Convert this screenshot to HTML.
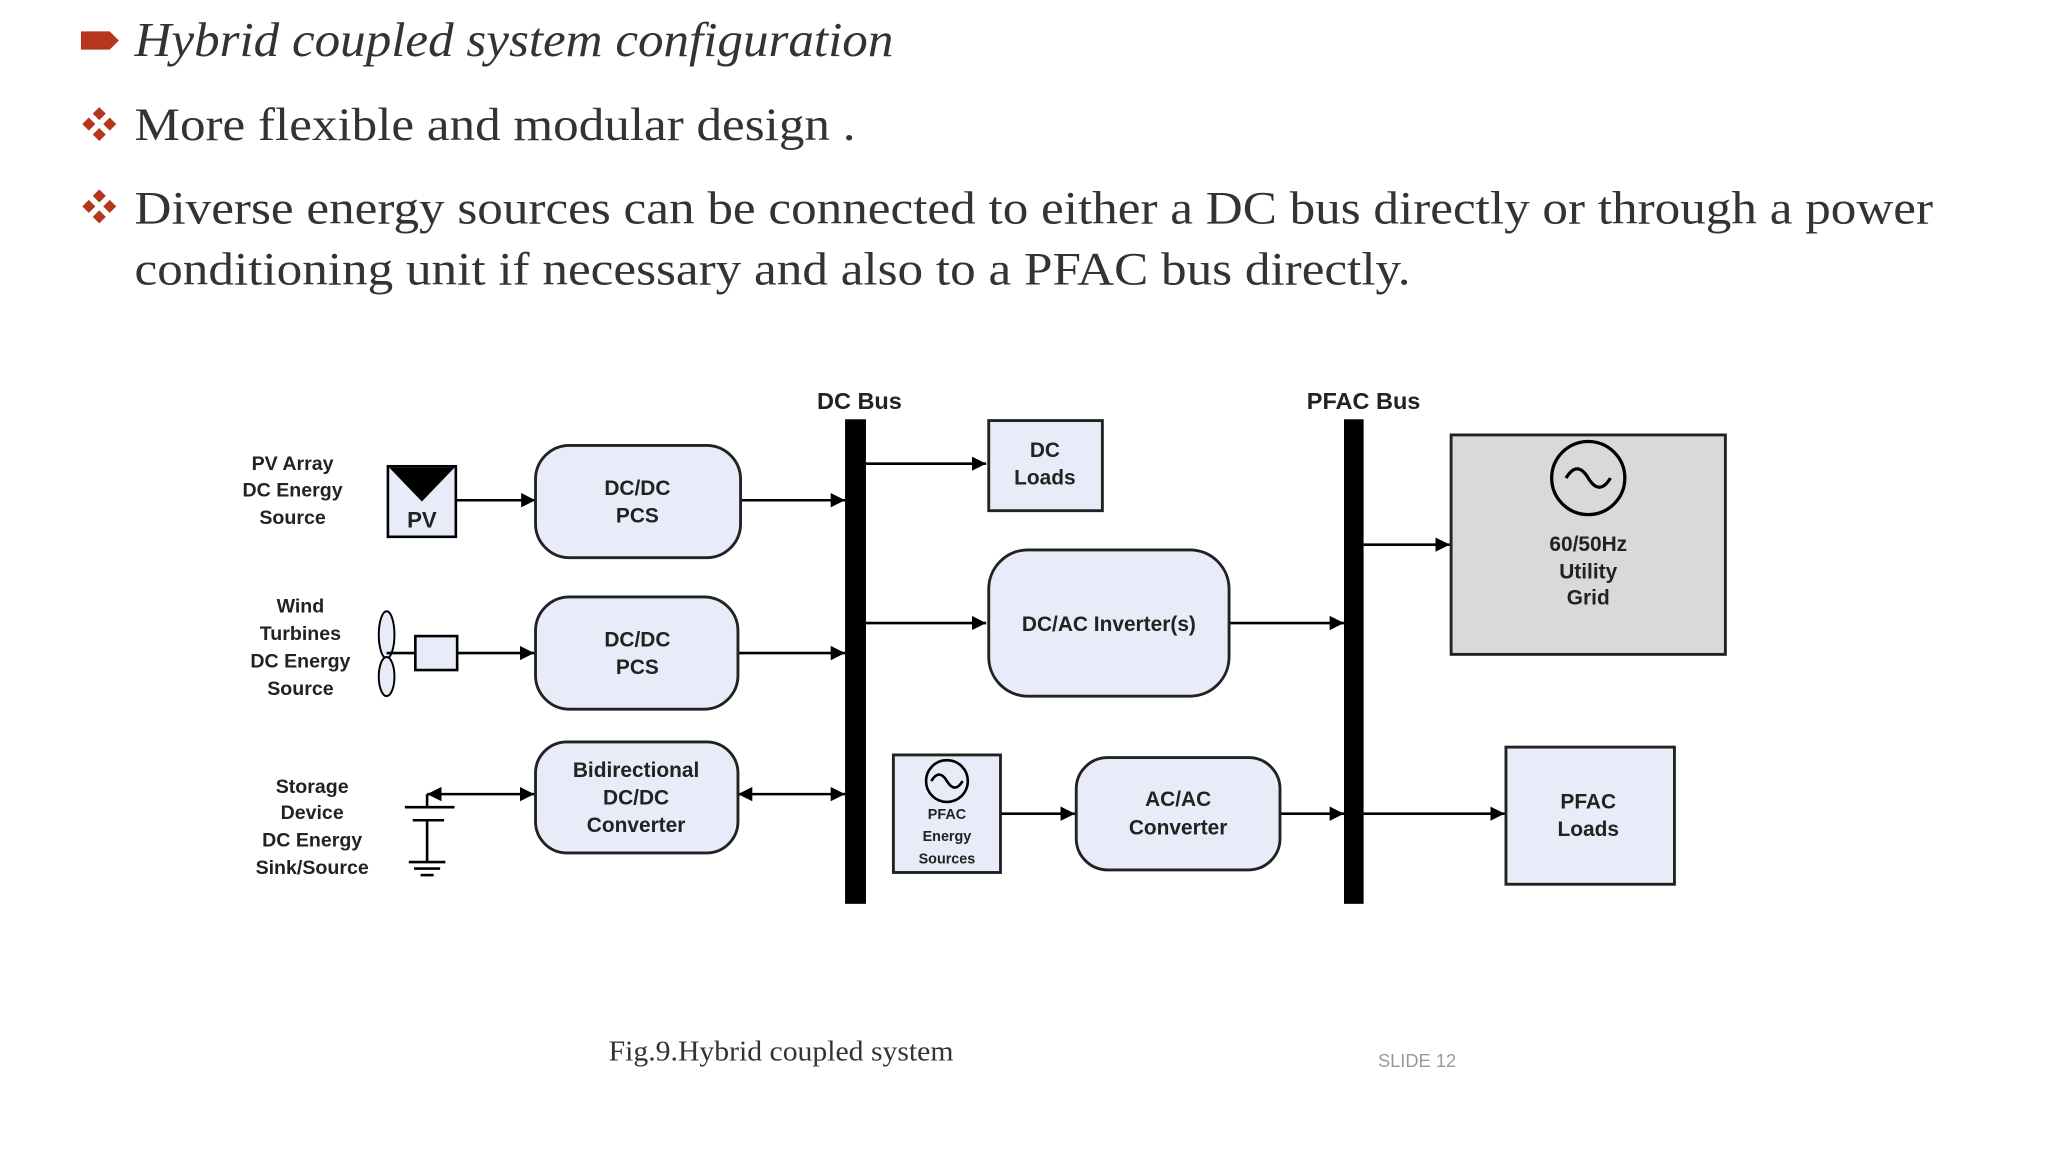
<!DOCTYPE html>
<html><head><meta charset="utf-8">
<style>
html,body{margin:0;padding:0;background:#fff;}
svg{display:block;}
.t{font-family:"Liberation Serif",serif;fill:#333;}
.d{font-family:"Liberation Sans",sans-serif;font-weight:bold;fill:#222;text-anchor:middle;}
</style></head><body>
<svg width="2048" height="1152" viewBox="0 0 1568 882" xmlns="http://www.w3.org/2000/svg">
<defs>
<marker id="a" viewBox="0 0 10 10" refX="10" refY="5" markerWidth="11" markerHeight="11" orient="auto-start-reverse" markerUnits="userSpaceOnUse"><path d="M0,0 L10,5 L0,10 z" fill="#000"/></marker>
</defs>
<rect width="1568" height="882" fill="#fff"/>
<path d="M62,24 L84,24 L91,31 L84,38 L62,38 z" fill="#b5361c"/>
<text class="t" x="103" y="43" font-size="37" font-style="italic" textLength="581" lengthAdjust="spacingAndGlyphs">Hybrid coupled system configuration</text>
<g fill="#b5361c">
<path d="M76,82 l5,5 l-5,5 l-5,-5z M76,98 l5,5 l-5,5 l-5,-5z M68,90 l5,5 l-5,5 l-5,-5z M84,90 l5,5 l-5,5 l-5,-5z"/>
<path d="M76,145 l5,5 l-5,5 l-5,-5z M76,161 l5,5 l-5,5 l-5,-5z M68,153 l5,5 l-5,5 l-5,-5z M84,153 l5,5 l-5,5 l-5,-5z"/>
</g>
<text class="t" x="103" y="107" font-size="36" textLength="552" lengthAdjust="spacingAndGlyphs">More flexible and modular design .</text>
<text class="t" x="103" y="171" font-size="36" textLength="1377" lengthAdjust="spacingAndGlyphs">Diverse energy sources can be connected to either a DC bus directly or through a power</text>
<text class="t" x="103" y="218" font-size="36" textLength="977" lengthAdjust="spacingAndGlyphs">conditioning unit if necessary and also to a PFAC bus directly.</text>

<text class="d" x="658" y="313" font-size="18">DC Bus</text>
<rect x="647" y="321" width="16" height="371" fill="#000"/>
<text class="d" x="1044" y="313" font-size="18">PFAC Bus</text>
<rect x="1029" y="321" width="15" height="371" fill="#000"/>

<g stroke="#000" stroke-width="2" fill="none" marker-end="url(#a)">
<line x1="349" y1="383" x2="410" y2="383"/>
<line x1="567" y1="383" x2="647" y2="383"/>
<line x1="350" y1="500" x2="409" y2="500"/>
<line x1="565" y1="500" x2="647" y2="500"/>
<line x1="327" y1="608" x2="409" y2="608" marker-start="url(#a)"/>
<line x1="565" y1="608" x2="647" y2="608" marker-start="url(#a)"/>
<line x1="663" y1="355" x2="755" y2="355"/>
<line x1="663" y1="477" x2="755" y2="477"/>
<line x1="941" y1="477" x2="1029" y2="477"/>
<line x1="766" y1="623" x2="823" y2="623"/>
<line x1="980" y1="623" x2="1029" y2="623"/>
<line x1="1044" y1="417" x2="1110" y2="417"/>
<line x1="1044" y1="623" x2="1152" y2="623"/>
</g>

<g class="d" font-size="15">
<text x="224" y="360">PV Array</text><text x="224" y="380">DC Energy</text><text x="224" y="401">Source</text>
<text x="230" y="469">Wind</text><text x="230" y="490">Turbines</text><text x="230" y="511">DC Energy</text><text x="230" y="532">Source</text>
<text x="239" y="607">Storage</text><text x="239" y="627">Device</text><text x="239" y="648">DC Energy</text><text x="239" y="669">Sink/Source</text>
</g>
<rect x="297" y="357" width="52" height="54" fill="#e8ecf8" stroke="#000" stroke-width="2"/>
<path d="M298,358 L348,358 L323,384 z" fill="#000"/>
<text class="d" x="323" y="404" font-size="17">PV</text>

<ellipse cx="296" cy="486" rx="6" ry="18" fill="#e8ecf8" stroke="#000" stroke-width="1.5"/>
<ellipse cx="296" cy="518" rx="6" ry="15" fill="#e8ecf8" stroke="#000" stroke-width="1.5"/>
<line x1="296" y1="500" x2="318" y2="500" stroke="#000" stroke-width="2"/>
<rect x="318" y="487" width="32" height="26" fill="#e8ecf8" stroke="#000" stroke-width="2"/>

<g stroke="#000" stroke-width="2">
<line x1="327" y1="608" x2="327" y2="618"/>
<line x1="310" y1="618" x2="348" y2="618"/>
<line x1="316" y1="628" x2="340" y2="628"/>
<line x1="327" y1="628" x2="327" y2="660"/>
<line x1="313" y1="660" x2="341" y2="660"/>
<line x1="317" y1="665" x2="337" y2="665"/>
<line x1="322" y1="670" x2="332" y2="670"/>
</g>

<g fill="#e8ecf8" stroke="#222" stroke-width="2.2">
<rect x="410" y="341" width="157" height="86" rx="26"/>
<rect x="410" y="457" width="155" height="86" rx="26"/>
<rect x="410" y="568" width="155" height="85" rx="24"/>
<rect x="757" y="421" width="184" height="112" rx="30"/>
<rect x="824" y="580" width="156" height="86" rx="24"/>
<rect x="757" y="322" width="87" height="69" rx="0"/>
<rect x="684" y="578" width="82" height="90" rx="0"/>
<rect x="1153" y="572" width="129" height="105" rx="0"/>
</g>
<rect x="1111" y="333" width="210" height="168" fill="#d9d9d9" stroke="#222" stroke-width="2.2"/>
<g class="d" font-size="16">
<text x="488" y="379">DC/DC</text><text x="488" y="400">PCS</text>
<text x="488" y="495">DC/DC</text><text x="488" y="516">PCS</text>
<text x="487" y="595">Bidirectional</text><text x="487" y="616">DC/DC</text><text x="487" y="637">Converter</text>
<text x="800" y="350">DC</text><text x="800" y="371">Loads</text>
<text x="849" y="483">DC/AC Inverter(s)</text>
<text x="902" y="617">AC/AC</text><text x="902" y="639">Converter</text>
<text x="1216" y="619">PFAC</text><text x="1216" y="640">Loads</text>
<text x="1216" y="422">60/50Hz</text><text x="1216" y="443">Utility</text><text x="1216" y="463">Grid</text>
</g>
<g class="d" font-size="11">
<text x="725" y="627">PFAC</text><text x="725" y="644">Energy</text><text x="725" y="661">Sources</text>
</g>
<circle cx="725" cy="598" r="16" fill="none" stroke="#000" stroke-width="2"/>
<path d="M713,598 q6,-10 12,0 t12,0" fill="none" stroke="#000" stroke-width="2"/>
<circle cx="1216" cy="366" r="28" fill="none" stroke="#000" stroke-width="2.5"/>
<path d="M1199,366 q8.5,-14 17,0 t17,0" fill="none" stroke="#000" stroke-width="2.5"/>

<text class="t" x="466" y="812" font-size="22" fill="#222" textLength="264" lengthAdjust="spacingAndGlyphs">Fig.9.Hybrid coupled system</text>
<text x="1055" y="817" font-size="14" fill="#999" font-family="Liberation Sans,sans-serif">SLIDE 12</text>
</svg>
</body></html>
